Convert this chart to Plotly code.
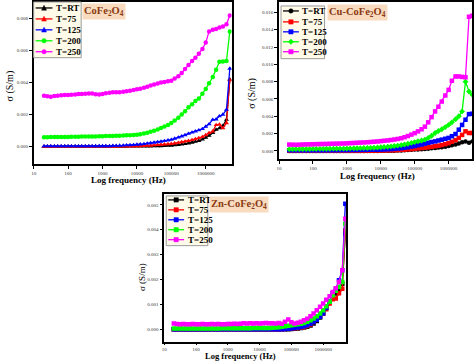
import plotly.graph_objects as go

W, H = 474, 361

# ---------------- data ----------------
freq_hz = [20, 25, 31.5, 40, 50, 63, 80, 100, 125, 160,
           200, 250, 315, 400, 500, 630, 800, 1000, 1250, 1600,
           2000, 2500, 3150, 4000, 5000, 6300, 8000, 10000, 12500, 16000,
           20000, 25000, 31500, 40000, 50000, 63000, 80000, 100000, 125000, 160000,
           200000, 250000, 315000, 400000, 500000, 630000, 800000, 1000000, 1250000, 1600000,
           2000000, 2500000, 3150000, 4000000, 5000000]

x_tickvals = [10, 100, 1000, 10000, 100000, 1000000]
x_ticktext = ["10", "100", "1000", "10000", "100000", "1000000"]

series_names = ["T=RT", "T=75", "T=125", "T=200", "T=250"]
series_colors = ["#000000", "#ff0000", "#0000ff", "#00ff00", "#ff00ff"]

# conductivity values in mS/m (converted to S/m when plotted)
co_rt = [0.00, 0.00, 0.00, 0.00, 0.00, 0.00, 0.00, 0.00, 0.00, 0.00,
         0.00, 0.00, 0.00, 0.00, 0.00, 0.00, 0.00, 0.00, 0.00, 0.00,
         0.00, 0.00, 0.00, 0.00, 0.00, 0.01, 0.01, 0.01, 0.01, 0.01,
         0.01, 0.01, 0.02, 0.02, 0.03, 0.04, 0.05, 0.06, 0.08, 0.10,
         0.13, 0.16, 0.20, 0.25, 0.30, 0.36, 0.45, 0.55, 0.68, 0.85,
         1.05, 1.15, 1.30, 1.68, 4.20]
co_75 = [0.00, 0.00, 0.00, 0.00, 0.00, 0.00, 0.00, 0.00, 0.00, 0.00,
         0.00, 0.00, 0.00, 0.00, 0.00, 0.00, 0.00, 0.00, 0.00, 0.00,
         0.00, 0.00, 0.01, 0.01, 0.01, 0.01, 0.01, 0.02, 0.03, 0.04,
         0.05, 0.06, 0.08, 0.10, 0.12, 0.14, 0.15, 0.17, 0.20, 0.24,
         0.28, 0.32, 0.36, 0.41, 0.47, 0.53, 0.60, 0.72, 0.85, 0.95,
         1.35, 1.38, 1.15, 1.47, 4.16]
co_125 = [0.02, 0.02, 0.02, 0.02, 0.02, 0.02, 0.02, 0.02, 0.02, 0.02,
          0.02, 0.02, 0.02, 0.02, 0.02, 0.03, 0.03, 0.03, 0.03, 0.03,
          0.04, 0.05, 0.06, 0.07, 0.08, 0.09, 0.10, 0.12, 0.14, 0.16,
          0.19, 0.22, 0.25, 0.28, 0.31, 0.35, 0.39, 0.43, 0.50, 0.57,
          0.64, 0.72, 0.80, 0.88, 0.95, 1.02, 1.10, 1.25, 1.40, 1.68,
          1.70, 1.90, 2.00, 2.30, 4.88]
co_200 = [0.58, 0.58, 0.59, 0.59, 0.59, 0.60, 0.60, 0.60, 0.61, 0.61,
          0.61, 0.62, 0.62, 0.62, 0.63, 0.63, 0.64, 0.64, 0.65, 0.65,
          0.66, 0.67, 0.68, 0.69, 0.70, 0.71, 0.72, 0.74, 0.77, 0.81,
          0.86, 0.92, 0.99, 1.07, 1.16, 1.25, 1.35, 1.47, 1.62, 1.80,
          2.00, 2.20, 2.45, 2.65, 2.85, 3.00, 3.30, 3.60, 3.95, 4.35,
          4.80, 5.30, 5.32, 5.35, 7.20]
co_250 = [3.17, 3.14, 3.12, 3.16, 3.18, 3.20, 3.22, 3.22, 3.24, 3.26,
          3.28, 3.29, 3.30, 3.31, 3.32, 3.27, 3.26, 3.28, 3.33, 3.37,
          3.40, 3.39, 3.40, 3.43, 3.46, 3.49, 3.53, 3.58, 3.62, 3.68,
          3.74, 3.82, 3.88, 3.94, 4.00, 4.04, 4.08, 4.12, 4.25, 4.40,
          4.60, 4.85, 5.10, 5.35, 5.55, 5.80, 6.10, 6.50, 7.20, 7.30,
          7.35, 7.45, 7.50, 7.65, 8.20]

cu_rt = [0.00, 0.00, 0.00, 0.00, 0.00, 0.00, 0.00, 0.00, 0.00, 0.00,
         0.00, 0.00, 0.00, 0.00, 0.00, 0.00, 0.00, 0.00, 0.00, 0.00,
         0.00, 0.00, 0.00, 0.00, 0.00, 0.00, 0.00, 0.01, 0.01, 0.02,
         0.02, 0.03, 0.04, 0.05, 0.07, 0.09, 0.12, 0.15, 0.17, 0.20,
         0.23, 0.26, 0.30, 0.34, 0.38, 0.43, 0.49, 0.56, 0.64, 0.74,
         0.85, 1.00, 1.10, 0.95, 1.10]
cu_75 = [0.01, 0.01, 0.01, 0.01, 0.01, 0.01, 0.01, 0.01, 0.01, 0.01,
         0.01, 0.01, 0.01, 0.01, 0.01, 0.01, 0.01, 0.01, 0.01, 0.01,
         0.01, 0.01, 0.01, 0.02, 0.02, 0.03, 0.03, 0.04, 0.05, 0.06,
         0.07, 0.08, 0.10, 0.12, 0.14, 0.17, 0.21, 0.25, 0.29, 0.33,
         0.37, 0.42, 0.47, 0.54, 0.60, 0.68, 0.78, 0.90, 1.05, 1.25,
         1.50, 1.85, 2.26, 2.07, 2.07]
cu_125 = [0.08, 0.07, 0.07, 0.07, 0.07, 0.07, 0.07, 0.07, 0.07, 0.07,
          0.07, 0.08, 0.08, 0.08, 0.08, 0.09, 0.09, 0.09, 0.10, 0.10,
          0.11, 0.11, 0.12, 0.12, 0.13, 0.14, 0.14, 0.15, 0.17, 0.19,
          0.21, 0.24, 0.27, 0.31, 0.36, 0.42, 0.50, 0.57, 0.65, 0.74,
          0.84, 0.94, 1.02, 1.10, 1.20, 1.30, 1.40, 1.50, 1.70, 1.95,
          2.45, 3.00, 3.60, 4.25, 4.30]
cu_200 = [0.20, 0.20, 0.21, 0.21, 0.22, 0.22, 0.22, 0.23, 0.23, 0.24,
          0.24, 0.25, 0.25, 0.26, 0.26, 0.27, 0.27, 0.28, 0.29, 0.30,
          0.31, 0.32, 0.33, 0.34, 0.35, 0.37, 0.39, 0.42, 0.45, 0.48,
          0.52, 0.56, 0.61, 0.67, 0.74, 0.82, 0.92, 1.02, 1.12, 1.20,
          1.30, 1.50, 1.75, 2.07, 2.30, 2.50, 2.75, 3.00, 3.30, 3.65,
          4.00, 4.56, 8.00, 6.86, 6.50]
cu_250 = [0.73, 0.72, 0.70, 0.72, 0.74, 0.75, 0.76, 0.77, 0.78, 0.79,
          0.80, 0.81, 0.82, 0.83, 0.84, 0.85, 0.86, 0.88, 0.90, 0.92,
          0.94, 0.96, 0.98, 1.00, 1.03, 1.06, 1.09, 1.13, 1.17, 1.21,
          1.26, 1.31, 1.38, 1.46, 1.58, 1.72, 1.88, 2.05, 2.25, 2.50,
          2.80, 3.30, 3.90, 4.56, 5.10, 5.70, 6.40, 7.05, 8.10, 8.60,
          8.60, 8.55, 8.50, 15.50, 15.60]

zn_rt = [0.00, 0.00, 0.00, 0.00, 0.00, 0.00, 0.00, 0.00, 0.00, 0.00,
         0.00, 0.00, 0.00, 0.00, 0.00, 0.00, 0.00, 0.00, 0.00, 0.00,
         0.00, 0.00, 0.00, 0.00, 0.00, 0.00, 0.00, 0.00, 0.00, 0.00,
         0.00, 0.00, 0.00, 0.00, 0.00, 0.00, 0.00, 0.01, 0.02, 0.03,
         0.05, 0.07, 0.10, 0.15, 0.23, 0.33, 0.47, 0.63, 0.85, 1.10,
         1.36, 1.43, 1.60, 1.83, 3.84]
zn_75 = [0.00, 0.00, 0.00, 0.00, 0.00, 0.00, 0.00, 0.00, 0.00, 0.00,
         0.00, 0.00, 0.00, 0.00, 0.00, 0.00, 0.00, 0.00, 0.00, 0.00,
         0.00, 0.00, 0.00, 0.00, 0.00, 0.00, 0.00, 0.00, 0.00, 0.00,
         0.00, 0.00, 0.00, 0.00, 0.00, 0.01, 0.02, 0.03, 0.04, 0.05,
         0.07, 0.09, 0.13, 0.19, 0.29, 0.40, 0.52, 0.62, 0.80, 1.03,
         1.20, 1.23, 1.45, 1.63, 3.97]
zn_125 = [0.00, 0.00, 0.00, 0.00, 0.00, 0.00, 0.00, 0.00, 0.00, 0.00,
          0.00, 0.00, 0.00, 0.00, 0.00, 0.00, 0.00, 0.00, 0.00, 0.00,
          0.00, 0.00, 0.00, 0.00, 0.00, 0.00, 0.00, 0.00, 0.00, 0.00,
          0.00, 0.00, 0.00, 0.00, 0.00, 0.01, 0.02, 0.03, 0.05, 0.07,
          0.09, 0.12, 0.16, 0.22, 0.29, 0.38, 0.50, 0.63, 0.85, 1.10,
          1.45, 1.60, 1.97, 2.37, 5.04]
zn_200 = [0.03, 0.03, 0.03, 0.03, 0.03, 0.03, 0.03, 0.03, 0.03, 0.03,
          0.03, 0.03, 0.03, 0.03, 0.03, 0.04, 0.04, 0.04, 0.04, 0.04,
          0.04, 0.04, 0.04, 0.04, 0.04, 0.05, 0.05, 0.05, 0.05, 0.05,
          0.05, 0.06, 0.07, 0.08, 0.10, 0.12, 0.14, 0.16, 0.18, 0.20,
          0.22, 0.25, 0.30, 0.36, 0.43, 0.52, 0.63, 0.76, 0.92, 1.10,
          1.36, 1.55, 1.70, 1.90, 4.24]
zn_250 = [0.23, 0.21, 0.20, 0.21, 0.20, 0.20, 0.21, 0.20, 0.20, 0.21,
          0.20, 0.20, 0.21, 0.20, 0.21, 0.20, 0.20, 0.21, 0.21, 0.22,
          0.21, 0.22, 0.24, 0.23, 0.24, 0.23, 0.24, 0.23, 0.24, 0.25,
          0.24, 0.24, 0.23, 0.25, 0.22, 0.30, 0.39, 0.28, 0.23, 0.26,
          0.30, 0.36, 0.42, 0.52, 0.63, 0.76, 0.90, 1.03, 1.18, 1.32,
          1.50, 1.65, 1.90, 2.37, 4.44]

# ---------------- layout config (pixels) ----------------
SERIF = "Liberation Serif"

panels = [
    dict(data=[co_rt, co_75, co_125, co_200, co_250],
         symbols=["triangle-up", "triangle-up", "triangle-up", "circle", "circle"],
         title="CoFe<sub>2</sub>O<sub>4</sub>",
         box=(31, 231, 0, 163), xrange=(1, 6.75), yrange=(-0.0011, 0.00904), dtick=0.002,
         leg_box=(31, 79, 0, 56), leg_rows=[6, 17, 28, 39, 50], leg_icon=(33, 50),
         ttl_pos=(80, 1), xt_pos=(127, 179), xt_size=9, yt_pos=(7, 84), yt_size=10, xticklen=3),
    dict(data=[cu_rt, cu_75, cu_125, cu_200, cu_250],
         symbols=["circle", "square", "square", "diamond", "square"],
         title="Cu-CoFe<sub>2</sub>O<sub>4</sub>",
         box=(279, 474, 0, 158), xrange=(1, 6.69), yrange=(-0.00095, 0.0172), dtick=0.002,
         leg_box=(281, 325, 4, 57), leg_rows=[9, 20, 30, 40, 50], leg_icon=(283, 299),
         ttl_pos=(327, 2), xt_pos=(378, 175), xt_size=9, yt_pos=(252, 92), yt_size=10, xticklen=3),
    dict(data=[zn_rt, zn_75, zn_125, zn_200, zn_250],
         symbols=["square", "square", "square", "square", "square"],
         title="Zn-CoFe<sub>2</sub>O<sub>4</sub>",
         box=(163, 347, 193, 341.5), xrange=(1, 6.73), yrange=(-0.0005, 0.00544), dtick=0.001,
         leg_box=(165, 207, 195, 245), leg_rows=[199, 209, 219, 229, 239], leg_icon=(167, 183),
         ttl_pos=(208, 195), xt_pos=(240, 355.6), xt_size=8.5, yt_pos=(141, 277), yt_size=9, xticklen=2),
]


def px(x):
    return x / W


def py(y):
    return 1 - y / H


fig = go.Figure()
shapes = []
annotations = []
layout_axes = {}

for k, p in enumerate(panels):
    sfx = "" if k == 0 else str(k + 1)
    xa, ya = "x" + sfx, "y" + sfx
    x0, x1, ytop, ybot = p["box"]
    for name, color, sym, vals in zip(series_names, series_colors, p["symbols"], p["data"]):
        fig.add_trace(go.Scatter(
            x=freq_hz, y=[v / 1000 for v in vals], name=name, mode="lines+markers",
            line=dict(color=color, width=1.3), marker=dict(color=color, size=4.5, symbol=sym),
            xaxis=xa, yaxis=ya, showlegend=False))
    layout_axes["xaxis" + sfx] = dict(
        type="log", domain=[px(x0), px(x1)], range=list(p["xrange"]), anchor=ya,
        tickvals=x_tickvals, ticktext=x_ticktext, ticks="outside", ticklen=p["xticklen"],
        tickcolor="#000", tickwidth=1, showline=True, linecolor="#000", linewidth=1.5,
        mirror=True, showgrid=False, zeroline=False,
        tickfont=dict(family=SERIF, size=5, color="#333"))
    layout_axes["yaxis" + sfx] = dict(
        domain=[py(ybot), py(ytop)], range=list(p["yrange"]), anchor=xa,
        tick0=0, dtick=p["dtick"], tickformat=".3f", ticks="outside", ticklen=3,
        tickcolor="#000", tickwidth=1, showline=True, linecolor="#000", linewidth=1.5,
        mirror=True, showgrid=False, zeroline=False,
        tickfont=dict(family=SERIF, size=5, color="#333"))

    # legend box
    lx0, lx1, ly0, ly1 = p["leg_box"]
    shapes.append(dict(type="rect", xref="paper", yref="paper", x0=px(lx0), x1=px(lx1),
                       y0=py(ly1), y1=py(ly0), fillcolor="#fffbe8",
                       line=dict(color="#9a9a9a", width=1), layer="above"))
    ix0, ix1 = p["leg_icon"]
    for name, color, sym, ry in zip(series_names, series_colors, p["symbols"], p["leg_rows"]):
        shapes.append(dict(type="line", xref="paper", yref="paper", x0=px(ix0), x1=px(ix1),
                           y0=py(ry), y1=py(ry), line=dict(color=color, width=1.3), layer="above"))
        cx = (ix0 + ix1) / 2
        r = 2.2
        if sym == "circle":
            shapes.append(dict(type="circle", xref="paper", yref="paper", x0=px(cx - r), x1=px(cx + r),
                               y0=py(ry + r), y1=py(ry - r), fillcolor=color,
                               line=dict(color=color, width=0.5), layer="above"))
        elif sym == "square":
            shapes.append(dict(type="rect", xref="paper", yref="paper", x0=px(cx - r), x1=px(cx + r),
                               y0=py(ry + r), y1=py(ry - r), fillcolor=color,
                               line=dict(color=color, width=0.5), layer="above"))
        else:
            if sym == "triangle-up":
                path = "M {} {} L {} {} L {} {} Z".format(px(cx - r - 0.3), py(ry + r), px(cx + r + 0.3), py(ry + r),
                                                          px(cx), py(ry - r - 0.5))
            else:
                path = "M {} {} L {} {} L {} {} L {} {} Z".format(px(cx - r - 0.5), py(ry), px(cx), py(ry - r - 0.5),
                                                                  px(cx + r + 0.5), py(ry), px(cx), py(ry + r + 0.5))
            shapes.append(dict(type="path", xref="paper", yref="paper", path=path, fillcolor=color,
                               line=dict(color=color, width=0.5), layer="above"))
        annotations.append(dict(xref="paper", yref="paper", x=px(ix1 + 1.5), y=py(ry), xanchor="left",
                                yanchor="middle", text="<b>" + name + "</b>", showarrow=False,
                                font=dict(family=SERIF, size=9, color="#000")))

    # sample title box
    tx, ty = p["ttl_pos"]
    annotations.append(dict(xref="paper", yref="paper", x=px(tx), y=py(ty), xanchor="left", yanchor="top",
                            text="<b>" + p["title"] + "</b>", showarrow=False, bgcolor="#f9dcc0",
                            borderpad=1, font=dict(family=SERIF, size=10.5, color="#8b3a12")))
    # axis titles
    xtx, xty = p["xt_pos"]
    annotations.append(dict(xref="paper", yref="paper", x=px(xtx), y=py(xty), xanchor="center",
                            yanchor="middle", text="<b>Log frequency (Hz)</b>", showarrow=False,
                            borderpad=0, font=dict(family=SERIF, size=p["xt_size"], color="#000")))
    ytx, yty = p["yt_pos"]
    annotations.append(dict(xref="paper", yref="paper", x=px(ytx), y=py(yty), xanchor="center",
                            yanchor="middle", text="σ (S/m)", textangle=-90, showarrow=False,
                            font=dict(family=SERIF, size=p["yt_size"], color="#000")))

fig.update_layout(width=W, height=H, margin=dict(l=0, r=0, t=0, b=0),
                  paper_bgcolor="#ffffff", plot_bgcolor="#ffffff", showlegend=False,
                  shapes=shapes, annotations=annotations, **layout_axes)

fig.write_html("out.html", config={"displayModeBar": False},
               post_script="document.body.style.margin='0';document.body.style.overflow='hidden';")
